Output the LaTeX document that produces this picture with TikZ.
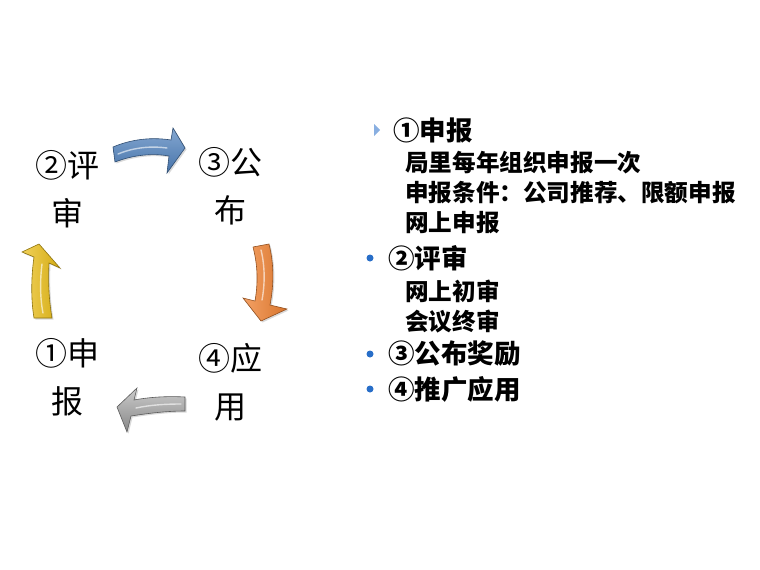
\documentclass[tikz,border=0pt]{standalone}
\usepackage{fontspec}
\setmainfont{Noto Sans CJK SC}
\usetikzlibrary{positioning,shadows}

\definecolor{arrowblue}{RGB}{79,129,189}
\definecolor{arrowred}{RGB}{240,130,50}
\definecolor{arrowgrey}{RGB}{150,150,150}
\definecolor{arrowgold}{RGB}{235,190,20}
\definecolor{bulletblue}{RGB}{40,110,200}

\begin{document}
\begin{tikzpicture}[x=1pt,y=-1pt,line width=0.6pt,
  cyclelabel/.style={align=center,inner sep=0pt,font=\fontsize{32}{48}\selectfont},
  listhead/.style={anchor=west,inner sep=0pt,font=\fontsize{26.5}{30}\selectfont\bfseries},
  listitem/.style={anchor=west,inner sep=0pt,font=\fontsize{23.6}{28}\selectfont\bfseries},
  blockarrow/.style={draw=#1!60!black,drop shadow={opacity=0.3,shadow xshift=1.5pt,shadow yshift=-1.5pt}},
  shine/.style={white,opacity=0.6,line width=1.4pt,line cap=round}]

  \useasboundingbox (0,0) rectangle (760,570);

  % The four steps of the cycle
  \node[cyclelabel] (review) at (67,189) {②评\\审};
  \node[cyclelabel] (publish) at (230,186) {③公\\布};
  \node[cyclelabel] (declare) at (67,377) {①申\\报};
  \node[cyclelabel] (promote) at (230,382) {④应\\用};

  % Blue arrow, review to publish
  \draw[blockarrow=arrowblue,top color=arrowblue!70!white,bottom color=arrowblue!90!black]
    (113,147) .. controls (132,139) and (152,137) .. (171,140) -- (173,128) -- (185,148)
    -- (167,173) -- (169,156) .. controls (152,153) and (133,155) .. (115,162) -- cycle;
  \draw[shine] (118,154) .. controls (135,147) and (152,146) .. (167,148);

  % Orange arrow, publish to promote
  \draw[blockarrow=arrowred,left color=arrowred!75!white,right color=arrowred!90!black]
    (253,247) -- (269,244) .. controls (274,264) and (274,284) .. (270,305) -- (287,309)
    -- (261,321) -- (243,298) -- (255,301) .. controls (258,284) and (258,266) .. (253,247);
  \draw[shine] (261,250) .. controls (265,266) and (265,284) .. (262,300);

  % Grey arrow, promote to declare
  \draw[blockarrow=arrowgrey,top color=arrowgrey!50!white,bottom color=arrowgrey!90!black]
    (185,397) .. controls (168,396) and (150,397) .. (134,400) -- (137,388) -- (117,407)
    -- (127,432) -- (131,416) .. controls (150,413) and (168,411) .. (185,411) -- cycle;
  \draw[shine] (181,404) .. controls (165,404) and (150,405) .. (136,408);

  % Yellow arrow, declare to review
  \draw[blockarrow=arrowgold,left color=arrowgold!70!white,right color=arrowgold!90!black]
    (34,318) .. controls (31,300) and (31,278) .. (34,257) -- (22,252) -- (39,244)
    -- (60,268) -- (49,263) .. controls (48,283) and (49,300) .. (52,318) -- cycle;
  \draw[shine] (43,313) .. controls (40,298) and (40,280) .. (42,264);

  % The list on the right
  \fill[bulletblue!55] (374,124) -- (380,130) -- (374,136) -- cycle;
  \node[listhead] (step1) at (393,130) {①申报};
  \node[listitem] (step1a) at (405,163) {局里每年组织申报一次};
  \node[listitem] (step1b) at (405,193) {申报条件：公司推荐、限额申报};
  \node[listitem] (step1c) at (405,223) {网上申报};

  \fill[bulletblue] (370,258) circle (3.5);
  \node[listhead] (step2) at (388,258) {②评审};
  \node[listitem] (step2a) at (405,291) {网上初审};
  \node[listitem] (step2b) at (405,322) {会议终审};

  \fill[bulletblue] (370,354) circle (3.5);
  \node[listhead] (step3) at (388,354) {③公布奖励};

  \fill[bulletblue] (370,389) circle (3.5);
  \node[listhead] (step4) at (388,389) {④推广应用};

\end{tikzpicture}
\end{document}
